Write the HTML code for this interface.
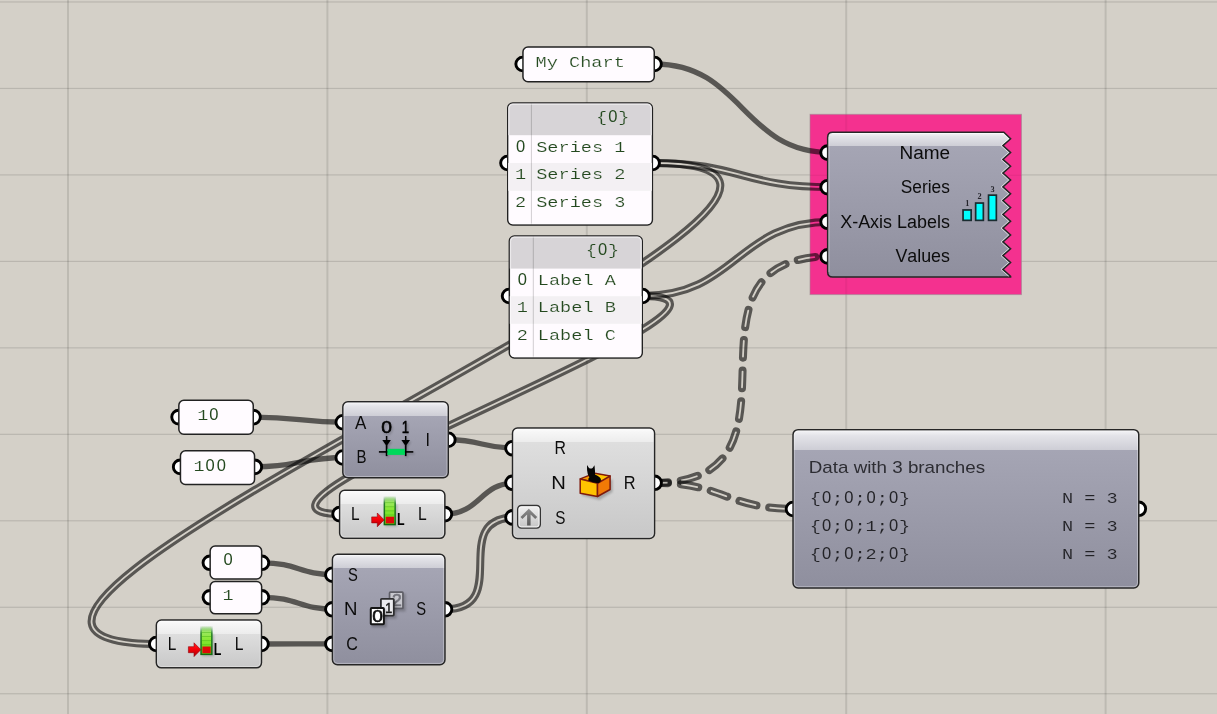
<!DOCTYPE html>
<html><head><meta charset="utf-8"><title>Grasshopper canvas</title>
<style>html,body{margin:0;padding:0;background:#d4d0c8;overflow:hidden}svg{display:block}</style></head>
<body><svg width="1217" height="714" viewBox="0 0 1217 714" style="opacity:0.999">
<defs>
<mask id="m1" maskUnits="userSpaceOnUse" x="0" y="0" width="1217" height="714"><path d="M652.60,163.00 C741.60,163.00 741.60,187.20 830.60,187.20" fill="none" stroke="#fff" stroke-width="8.00"/><path d="M652.60,163.00 C741.60,163.00 741.60,187.20 830.60,187.20" fill="none" stroke="#000" stroke-width="1.80"/></mask>
<mask id="m2" maskUnits="userSpaceOnUse" x="0" y="0" width="1217" height="714"><path d="M652.60,163.00 C1013.35,163.00 -201.45,644.00 159.30,644.00" fill="none" stroke="#fff" stroke-width="8.00"/><path d="M652.60,163.00 C1013.35,163.00 -201.45,644.00 159.30,644.00" fill="none" stroke="#000" stroke-width="1.80"/></mask>
<mask id="m3" maskUnits="userSpaceOnUse" x="0" y="0" width="1217" height="714"><path d="M642.50,296.00 C736.55,296.00 736.55,221.80 830.60,221.80" fill="none" stroke="#fff" stroke-width="8.00"/><path d="M642.50,296.00 C736.55,296.00 736.55,221.80 830.60,221.80" fill="none" stroke="#000" stroke-width="1.80"/></mask>
<mask id="m4" maskUnits="userSpaceOnUse" x="0" y="0" width="1217" height="714"><path d="M642.50,296.00 C806.08,296.00 179.03,514.10 342.60,514.10" fill="none" stroke="#fff" stroke-width="8.00"/><path d="M642.50,296.00 C806.08,296.00 179.03,514.10 342.60,514.10" fill="none" stroke="#000" stroke-width="1.80"/></mask>
<mask id="m5" maskUnits="userSpaceOnUse" x="0" y="0" width="1217" height="714"><path d="M445.00,609.30 C513.92,609.30 446.58,517.40 515.50,517.40" fill="none" stroke="#fff" stroke-width="8.00"/><path d="M445.00,609.30 C513.92,609.30 446.58,517.40 515.50,517.40" fill="none" stroke="#000" stroke-width="1.80"/></mask>
<mask id="m6" maskUnits="userSpaceOnUse" x="0" y="0" width="1217" height="714"><path d="M654.60,482.80 C824.40,482.80 660.80,256.40 830.60,256.40" fill="none" stroke="#fff" stroke-width="8.00" stroke-dasharray="17.7 12.9" stroke-dashoffset="4.4" stroke-linecap="round"/><path d="M654.60,482.80 C824.40,482.80 660.80,256.40 830.60,256.40" fill="none" stroke="#000" stroke-width="1.80" stroke-dasharray="15.6 15.0" stroke-dashoffset="3.35" stroke-linecap="round"/></mask>
<mask id="m7" maskUnits="userSpaceOnUse" x="0" y="0" width="1217" height="714"><path d="M654.60,482.80 C725.30,482.80 725.30,509.00 796.00,509.00" fill="none" stroke="#fff" stroke-width="8.00" stroke-dasharray="17.7 12.9" stroke-dashoffset="4.4" stroke-linecap="round"/><path d="M654.60,482.80 C725.30,482.80 725.30,509.00 796.00,509.00" fill="none" stroke="#000" stroke-width="1.80" stroke-dasharray="15.6 15.0" stroke-dashoffset="3.35" stroke-linecap="round"/></mask>
<clipPath id="c507"><rect x="508.20" y="103.50" width="143.70" height="121.10" rx="4.5" ry="4.5"/></clipPath>
<clipPath id="c508"><rect x="509.80" y="236.50" width="132.00" height="121.10" rx="4.5" ry="4.5"/></clipPath>
<linearGradient id="g826_131" x1="0" y1="0" x2="0" y2="1"><stop offset="0" stop-color="#f7f7f9"/><stop offset="0.0292" stop-color="#e3e3e8"/><stop offset="0.0973" stop-color="#cdcdd5"/><stop offset="0.0973" stop-color="#a5a5b4"/><stop offset="1" stop-color="#8f8f9e"/></linearGradient>
<linearGradient id="g342_401" x1="0" y1="0" x2="0" y2="1"><stop offset="0" stop-color="#f7f7f9"/><stop offset="0.0581" stop-color="#e3e3e8"/><stop offset="0.1935" stop-color="#cdcdd5"/><stop offset="0.1935" stop-color="#a5a5b4"/><stop offset="1" stop-color="#8f8f9e"/></linearGradient>
<filter id="sh" x="-30%" y="-30%" width="160%" height="160%"><feGaussianBlur stdDeviation="1.1"/></filter>
<linearGradient id="g338_489" x1="0" y1="0" x2="0" y2="1"><stop offset="0" stop-color="#fdfdfd"/><stop offset="0.0883" stop-color="#f6f6f6"/><stop offset="0.2944" stop-color="#ececec"/><stop offset="0.2944" stop-color="#dedede"/><stop offset="1" stop-color="#c8c8c8"/></linearGradient>
<linearGradient id="lg338" x1="0" y1="0" x2="0" y2="1"><stop offset="0" stop-color="#9af060" stop-opacity="0"/><stop offset="0.22" stop-color="#a8f268" stop-opacity="0.9"/><stop offset="0.45" stop-color="#8ce838"/><stop offset="1" stop-color="#5fdc10"/></linearGradient>
<linearGradient id="lg338b" x1="0" y1="0" x2="0" y2="1"><stop offset="0" stop-color="#147814" stop-opacity="0"/><stop offset="0.25" stop-color="#147814" stop-opacity="0.9"/><stop offset="1" stop-color="#126a12"/></linearGradient>
<linearGradient id="lg338r" x1="0" y1="0" x2="0" y2="1"><stop offset="0" stop-color="#ff2020"/><stop offset="0.45" stop-color="#f80008"/><stop offset="1" stop-color="#a80008"/></linearGradient>
<linearGradient id="g155_619" x1="0" y1="0" x2="0" y2="1"><stop offset="0" stop-color="#fdfdfd"/><stop offset="0.0888" stop-color="#f6f6f6"/><stop offset="0.2961" stop-color="#ececec"/><stop offset="0.2961" stop-color="#dedede"/><stop offset="1" stop-color="#c8c8c8"/></linearGradient>
<linearGradient id="lg155" x1="0" y1="0" x2="0" y2="1"><stop offset="0" stop-color="#9af060" stop-opacity="0"/><stop offset="0.22" stop-color="#a8f268" stop-opacity="0.9"/><stop offset="0.45" stop-color="#8ce838"/><stop offset="1" stop-color="#5fdc10"/></linearGradient>
<linearGradient id="lg155b" x1="0" y1="0" x2="0" y2="1"><stop offset="0" stop-color="#147814" stop-opacity="0"/><stop offset="0.25" stop-color="#147814" stop-opacity="0.9"/><stop offset="1" stop-color="#126a12"/></linearGradient>
<linearGradient id="lg155r" x1="0" y1="0" x2="0" y2="1"><stop offset="0" stop-color="#ff2020"/><stop offset="0.45" stop-color="#f80008"/><stop offset="1" stop-color="#a80008"/></linearGradient>
<linearGradient id="g331_553" x1="0" y1="0" x2="0" y2="1"><stop offset="0" stop-color="#f7f7f9"/><stop offset="0.0383" stop-color="#e3e3e8"/><stop offset="0.1278" stop-color="#cdcdd5"/><stop offset="0.1278" stop-color="#a5a5b4"/><stop offset="1" stop-color="#8f8f9e"/></linearGradient>
<linearGradient id="g511_427" x1="0" y1="0" x2="0" y2="1"><stop offset="0" stop-color="#fdfdfd"/><stop offset="0.0391" stop-color="#f6f6f6"/><stop offset="0.1304" stop-color="#ececec"/><stop offset="0.1304" stop-color="#dedede"/><stop offset="1" stop-color="#c8c8c8"/></linearGradient>
<linearGradient id="bdg" x1="0" y1="0" x2="0" y2="1"><stop offset="0" stop-color="#f2f2f2"/><stop offset="1" stop-color="#c4c4c4"/></linearGradient>
<linearGradient id="bda" x1="0" y1="0" x2="0" y2="1"><stop offset="0" stop-color="#8c8c8c"/><stop offset="1" stop-color="#5c5c5c"/></linearGradient>
<linearGradient id="g792_428" x1="0" y1="0" x2="0" y2="1"><stop offset="0" stop-color="#f7f7f9"/><stop offset="0.0394" stop-color="#e3e3e8"/><stop offset="0.1314" stop-color="#cdcdd5"/><stop offset="0.1314" stop-color="#a5a5b4"/><stop offset="1" stop-color="#8f8f9e"/></linearGradient>
</defs>
<rect width="1217" height="714" fill="#d4d0c8"/>
<rect x="67.00" y="0" width="2" height="714" fill="#000" fill-opacity="0.105"/>
<rect x="326.40" y="0" width="2" height="714" fill="#000" fill-opacity="0.105"/>
<rect x="585.80" y="0" width="2" height="714" fill="#000" fill-opacity="0.105"/>
<rect x="845.20" y="0" width="2" height="714" fill="#000" fill-opacity="0.105"/>
<rect x="1104.60" y="0" width="2" height="714" fill="#000" fill-opacity="0.105"/>
<rect x="0" y="1.38" width="1217" height="1.2" fill="#000" fill-opacity="0.125"/>
<rect x="0" y="87.85" width="1217" height="1.2" fill="#000" fill-opacity="0.125"/>
<rect x="0" y="174.32" width="1217" height="1.2" fill="#000" fill-opacity="0.125"/>
<rect x="0" y="260.79" width="1217" height="1.2" fill="#000" fill-opacity="0.125"/>
<rect x="0" y="347.26" width="1217" height="1.2" fill="#000" fill-opacity="0.125"/>
<rect x="0" y="433.73" width="1217" height="1.2" fill="#000" fill-opacity="0.125"/>
<rect x="0" y="520.20" width="1217" height="1.2" fill="#000" fill-opacity="0.125"/>
<rect x="0" y="606.67" width="1217" height="1.2" fill="#000" fill-opacity="0.125"/>
<rect x="0" y="693.14" width="1217" height="1.2" fill="#000" fill-opacity="0.125"/>
<rect x="810" y="114.3" width="211.5" height="180.3" fill="#f52b8c" fill-opacity="0.97" stroke="#a08a94" stroke-opacity="0.6" stroke-width="1"/>
<rect x="810" y="174.8" width="211.5" height="1" fill="#000" fill-opacity="0.05"/>
<rect x="845.2" y="114.3" width="2" height="180.3" fill="#000" fill-opacity="0.04"/>
<path d="M654.50,64.00 C742.55,64.00 742.55,152.60 830.60,152.60" fill="none" stroke="#000" stroke-opacity="0.585" stroke-width="5.30"/>
<rect x="0" y="0" width="1217" height="714" fill="#000" fill-opacity="0.585" mask="url(#m1)"/>
<rect x="0" y="0" width="1217" height="714" fill="#000" fill-opacity="0.585" mask="url(#m2)"/>
<rect x="0" y="0" width="1217" height="714" fill="#000" fill-opacity="0.585" mask="url(#m3)"/>
<rect x="0" y="0" width="1217" height="714" fill="#000" fill-opacity="0.585" mask="url(#m4)"/>
<path d="M253.50,417.10 C299.65,417.10 299.65,422.25 345.80,422.25" fill="none" stroke="#000" stroke-opacity="0.585" stroke-width="5.30"/>
<path d="M254.80,466.90 C300.30,466.90 300.30,457.50 345.80,457.50" fill="none" stroke="#000" stroke-opacity="0.585" stroke-width="5.30"/>
<path d="M448.30,439.75 C481.90,439.75 481.90,448.20 515.50,448.20" fill="none" stroke="#000" stroke-opacity="0.585" stroke-width="5.30"/>
<path d="M444.90,514.10 C480.20,514.10 480.20,482.80 515.50,482.80" fill="none" stroke="#000" stroke-opacity="0.585" stroke-width="5.30"/>
<rect x="0" y="0" width="1217" height="714" fill="#000" fill-opacity="0.585" mask="url(#m5)"/>
<path d="M261.90,562.80 C298.65,562.80 298.65,574.70 335.40,574.70" fill="none" stroke="#000" stroke-opacity="0.585" stroke-width="5.30"/>
<path d="M261.90,597.30 C298.65,597.30 298.65,609.30 335.40,609.30" fill="none" stroke="#000" stroke-opacity="0.585" stroke-width="5.30"/>
<path d="M261.50,644.00 C298.45,644.00 298.45,643.90 335.40,643.90" fill="none" stroke="#000" stroke-opacity="0.585" stroke-width="5.30"/>
<rect x="0" y="0" width="1217" height="714" fill="#000" fill-opacity="0.585" mask="url(#m6)"/>
<rect x="0" y="0" width="1217" height="714" fill="#000" fill-opacity="0.585" mask="url(#m7)"/>
<circle cx="522.70" cy="64.00" r="6.85" fill="#fff" stroke="#000" stroke-width="2.9"/>
<circle cx="654.50" cy="64.00" r="6.85" fill="#fff" stroke="#000" stroke-width="2.9"/>
<rect x="522.95" y="47.05" width="131.30" height="34.60" rx="5" ry="5" fill="#fffbff" stroke="#222" stroke-width="1.5"/>
<text transform="translate(535.60,67.30) scale(1.2157,1)" font-family="'Liberation Mono',monospace" font-size="15.30" fill="#24491f" stroke="#fffbff" stroke-width="0.18" xml:space="preserve"><tspan x="0.00">My Chart</tspan></text>
<circle cx="507.50" cy="163.00" r="6.85" fill="#fff" stroke="#000" stroke-width="2.9"/>
<circle cx="652.60" cy="163.00" r="6.85" fill="#fff" stroke="#000" stroke-width="2.9"/>
<rect x="507.75" y="103.05" width="144.60" height="122.00" rx="5" ry="5" fill="#fffbff" stroke="#222" stroke-width="1.5"/>
<g clip-path="url(#c507)">
<rect x="507.00" y="102.30" width="146.10" height="32.90" fill="#d7d4d7"/>
<rect x="507.00" y="163.00" width="146.10" height="27.80" fill="#f3f0f3"/>
<rect x="530.90" y="102.30" width="1" height="123.50" fill="#000" fill-opacity="0.18"/>
</g>
<rect x="509.00" y="104.30" width="142.10" height="119.50" rx="3.8" ry="3.8" fill="none" stroke="#fff" stroke-opacity="0.55" stroke-width="1"/>
<text transform="translate(596.02,121.50) scale(1.2157,1)" font-family="'Liberation Mono',monospace" font-size="15.30" fill="#24491f" stroke="#d7d4d7" stroke-width="0.18" xml:space="preserve"><tspan x="0.00">{</tspan><tspan x="9.99" font-family="'Liberation Sans',sans-serif" font-size="15.60" textLength="7.56" lengthAdjust="spacingAndGlyphs" stroke="none">0</tspan><tspan x="18.36">}</tspan></text>
<text transform="translate(515.10,151.90) scale(1.2157,1)" font-family="'Liberation Mono',monospace" font-size="15.30" fill="#24491f" stroke="#fffbff" stroke-width="0.18" xml:space="preserve"><tspan x="0.81" font-family="'Liberation Sans',sans-serif" font-size="15.60" textLength="7.56" lengthAdjust="spacingAndGlyphs" stroke="none">0</tspan></text>
<text transform="translate(536.20,151.90) scale(1.2157,1)" font-family="'Liberation Mono',monospace" font-size="15.30" fill="#24491f" stroke="#fffbff" stroke-width="0.18" xml:space="preserve"><tspan x="0.00">Series 1</tspan></text>
<text transform="translate(515.10,179.45) scale(1.2157,1)" font-family="'Liberation Mono',monospace" font-size="15.30" fill="#24491f" stroke="#f3f0f3" stroke-width="0.18" xml:space="preserve"><tspan x="0.00">1</tspan></text>
<text transform="translate(536.20,179.45) scale(1.2157,1)" font-family="'Liberation Mono',monospace" font-size="15.30" fill="#24491f" stroke="#f3f0f3" stroke-width="0.18" xml:space="preserve"><tspan x="0.00">Series 2</tspan></text>
<text transform="translate(515.10,207.30) scale(1.2157,1)" font-family="'Liberation Mono',monospace" font-size="15.30" fill="#24491f" stroke="#fffbff" stroke-width="0.18" xml:space="preserve"><tspan x="0.00">2</tspan></text>
<text transform="translate(536.20,207.30) scale(1.2157,1)" font-family="'Liberation Mono',monospace" font-size="15.30" fill="#24491f" stroke="#fffbff" stroke-width="0.18" xml:space="preserve"><tspan x="0.00">Series 3</tspan></text>
<circle cx="509.10" cy="296.00" r="6.85" fill="#fff" stroke="#000" stroke-width="2.9"/>
<circle cx="642.50" cy="296.00" r="6.85" fill="#fff" stroke="#000" stroke-width="2.9"/>
<rect x="509.35" y="236.05" width="132.90" height="122.00" rx="5" ry="5" fill="#fffbff" stroke="#222" stroke-width="1.5"/>
<g clip-path="url(#c508)">
<rect x="508.60" y="235.30" width="134.40" height="33.30" fill="#d7d4d7"/>
<rect x="508.60" y="296.20" width="134.40" height="27.60" fill="#f3f0f3"/>
<rect x="532.80" y="235.30" width="1" height="123.50" fill="#000" fill-opacity="0.18"/>
</g>
<rect x="510.60" y="237.30" width="130.40" height="119.50" rx="3.8" ry="3.8" fill="none" stroke="#fff" stroke-opacity="0.55" stroke-width="1"/>
<text transform="translate(585.82,254.70) scale(1.2157,1)" font-family="'Liberation Mono',monospace" font-size="15.30" fill="#24491f" stroke="#d7d4d7" stroke-width="0.18" xml:space="preserve"><tspan x="0.00">{</tspan><tspan x="9.99" font-family="'Liberation Sans',sans-serif" font-size="15.60" textLength="7.56" lengthAdjust="spacingAndGlyphs" stroke="none">0</tspan><tspan x="18.36">}</tspan></text>
<text transform="translate(516.70,284.90) scale(1.2157,1)" font-family="'Liberation Mono',monospace" font-size="15.30" fill="#24491f" stroke="#fffbff" stroke-width="0.18" xml:space="preserve"><tspan x="0.81" font-family="'Liberation Sans',sans-serif" font-size="15.60" textLength="7.56" lengthAdjust="spacingAndGlyphs" stroke="none">0</tspan></text>
<text transform="translate(537.80,284.90) scale(1.2157,1)" font-family="'Liberation Mono',monospace" font-size="15.30" fill="#24491f" stroke="#fffbff" stroke-width="0.18" xml:space="preserve"><tspan x="0.00">Label A</tspan></text>
<text transform="translate(516.70,312.45) scale(1.2157,1)" font-family="'Liberation Mono',monospace" font-size="15.30" fill="#24491f" stroke="#f3f0f3" stroke-width="0.18" xml:space="preserve"><tspan x="0.00">1</tspan></text>
<text transform="translate(537.80,312.45) scale(1.2157,1)" font-family="'Liberation Mono',monospace" font-size="15.30" fill="#24491f" stroke="#f3f0f3" stroke-width="0.18" xml:space="preserve"><tspan x="0.00">Label B</tspan></text>
<text transform="translate(516.70,340.30) scale(1.2157,1)" font-family="'Liberation Mono',monospace" font-size="15.30" fill="#24491f" stroke="#fffbff" stroke-width="0.18" xml:space="preserve"><tspan x="0.00">2</tspan></text>
<text transform="translate(537.80,340.30) scale(1.2157,1)" font-family="'Liberation Mono',monospace" font-size="15.30" fill="#24491f" stroke="#fffbff" stroke-width="0.18" xml:space="preserve"><tspan x="0.00">Label C</tspan></text>
<circle cx="178.60" cy="417.10" r="6.85" fill="#fff" stroke="#000" stroke-width="2.9"/>
<circle cx="253.50" cy="417.10" r="6.85" fill="#fff" stroke="#000" stroke-width="2.9"/>
<rect x="178.85" y="400.25" width="74.40" height="33.90" rx="5" ry="5" fill="#fffbff" stroke="#222" stroke-width="1.5"/>
<text transform="translate(197.20,420.40) scale(1.2157,1)" font-family="'Liberation Mono',monospace" font-size="15.30" fill="#24491f" stroke="#fffbff" stroke-width="0.18" xml:space="preserve"><tspan x="0.00">1</tspan><tspan x="9.99" font-family="'Liberation Sans',sans-serif" font-size="15.60" textLength="7.56" lengthAdjust="spacingAndGlyphs" stroke="none">0</tspan></text>
<circle cx="180.20" cy="466.90" r="6.85" fill="#fff" stroke="#000" stroke-width="2.9"/>
<circle cx="254.80" cy="466.90" r="6.85" fill="#fff" stroke="#000" stroke-width="2.9"/>
<rect x="180.45" y="450.75" width="74.10" height="33.80" rx="5" ry="5" fill="#fffbff" stroke="#222" stroke-width="1.5"/>
<text transform="translate(193.40,470.50) scale(1.2157,1)" font-family="'Liberation Mono',monospace" font-size="15.30" fill="#24491f" stroke="#fffbff" stroke-width="0.18" xml:space="preserve"><tspan x="0.00">1</tspan><tspan x="9.99" font-family="'Liberation Sans',sans-serif" font-size="15.60" textLength="7.56" lengthAdjust="spacingAndGlyphs" stroke="none">0</tspan><tspan x="19.17" font-family="'Liberation Sans',sans-serif" font-size="15.60" textLength="7.56" lengthAdjust="spacingAndGlyphs" stroke="none">0</tspan></text>
<circle cx="209.90" cy="562.80" r="6.85" fill="#fff" stroke="#000" stroke-width="2.9"/>
<circle cx="261.90" cy="562.80" r="6.85" fill="#fff" stroke="#000" stroke-width="2.9"/>
<rect x="210.15" y="545.95" width="51.50" height="33.00" rx="5" ry="5" fill="#fffbff" stroke="#222" stroke-width="1.5"/>
<text transform="translate(222.60,565.00) scale(1.2157,1)" font-family="'Liberation Mono',monospace" font-size="15.30" fill="#24491f" stroke="#fffbff" stroke-width="0.18" xml:space="preserve"><tspan x="0.81" font-family="'Liberation Sans',sans-serif" font-size="15.60" textLength="7.56" lengthAdjust="spacingAndGlyphs" stroke="none">0</tspan></text>
<circle cx="209.90" cy="597.30" r="6.85" fill="#fff" stroke="#000" stroke-width="2.9"/>
<circle cx="261.90" cy="597.30" r="6.85" fill="#fff" stroke="#000" stroke-width="2.9"/>
<rect x="210.15" y="581.45" width="51.50" height="32.40" rx="5" ry="5" fill="#fffbff" stroke="#222" stroke-width="1.5"/>
<text transform="translate(222.60,600.00) scale(1.2157,1)" font-family="'Liberation Mono',monospace" font-size="15.30" fill="#24491f" stroke="#fffbff" stroke-width="0.18" xml:space="preserve"><tspan x="0.00">1</tspan></text>
<circle cx="827.60" cy="152.60" r="6.85" fill="#fff" stroke="#000" stroke-width="2.9"/>
<circle cx="827.60" cy="187.20" r="6.85" fill="#fff" stroke="#000" stroke-width="2.9"/>
<circle cx="827.60" cy="221.80" r="6.85" fill="#fff" stroke="#000" stroke-width="2.9"/>
<circle cx="827.60" cy="256.40" r="6.85" fill="#fff" stroke="#000" stroke-width="2.9"/>
<path d="M832.65,132.25 L1003.80,132.25 L1010.60,138.75 L1002.90,145.62 L1010.60,152.50 L1002.90,159.38 L1010.60,166.25 L1002.90,173.12 L1010.60,180.00 L1002.90,186.88 L1010.60,193.75 L1002.90,200.62 L1010.60,207.50 L1002.90,214.38 L1010.60,221.25 L1002.90,228.12 L1010.60,235.00 L1002.90,241.88 L1010.60,248.75 L1002.90,255.62 L1010.60,262.50 L1002.90,269.38 L1010.60,276.25 L1010.60,276.90 L832.65,276.90 Q827.65,276.90 827.65,271.90 L827.65,137.25 Q827.65,132.25 832.65,132.25 Z" fill="url(#g826_131)" stroke="#262626" stroke-width="1.5" stroke-linejoin="miter"/>
<path d="M832.65,133.55 L1003.20,133.55 L1008.70,138.75 L1001.00,145.62 L1008.70,152.50 L1001.00,159.38 L1008.70,166.25 L1001.00,173.12 L1008.70,180.00 L1001.00,186.88 L1008.70,193.75 L1001.00,200.62 L1008.70,207.50 L1001.00,214.38 L1008.70,221.25 L1001.00,228.12 L1008.70,235.00 L1001.00,241.88 L1008.70,248.75 L1001.00,255.62 L1008.70,262.50 L1001.00,269.38 L1008.70,276.25 " fill="none" stroke="#fff" stroke-opacity="0.6" stroke-width="1"/>
<path d="M828.95,137.25 V271.90" fill="none" stroke="#fff" stroke-opacity="0.4" stroke-width="1"/>
<text transform="translate(899.44,158.80) scale(1.0800,1)" font-family="'Liberation Sans',sans-serif" font-size="17.60" font-weight="normal" fill="#0c0c0c" style="font-kerning:none">Name</text>
<text transform="translate(900.81,193.20) scale(0.9845,1)" font-family="'Liberation Sans',sans-serif" font-size="17.60" font-weight="normal" fill="#0c0c0c" style="font-kerning:none">Series</text>
<text transform="translate(840.20,227.70) scale(1.0200,1)" font-family="'Liberation Sans',sans-serif" font-size="17.60" font-weight="normal" fill="#0c0c0c" style="font-kerning:none">X-Axis Labels</text>
<text transform="translate(895.42,262.30) scale(1.0132,1)" font-family="'Liberation Sans',sans-serif" font-size="17.60" font-weight="normal" fill="#0c0c0c" style="font-kerning:none">Values</text>
<rect x="963.05" y="209.95" width="8.10" height="10.40" fill="#00ffff" stroke="#1a2c30" stroke-width="1.7"/>
<rect x="975.65" y="203.05" width="7.70" height="17.30" fill="#00ffff" stroke="#1a2c30" stroke-width="1.7"/>
<rect x="988.55" y="195.15" width="7.80" height="25.20" fill="#00ffff" stroke="#1a2c30" stroke-width="1.7"/>
<text x="967.30" y="206.30" font-family="'Liberation Serif',serif" font-weight="bold" font-size="8.3" fill="#25252c" text-anchor="middle">1</text>
<text x="979.70" y="199.30" font-family="'Liberation Serif',serif" font-weight="bold" font-size="8.3" fill="#25252c" text-anchor="middle">2</text>
<text x="992.50" y="191.50" font-family="'Liberation Serif',serif" font-weight="bold" font-size="8.3" fill="#25252c" text-anchor="middle">3</text>
<circle cx="342.80" cy="422.25" r="6.85" fill="#fff" stroke="#000" stroke-width="2.9"/>
<circle cx="342.80" cy="457.50" r="6.85" fill="#fff" stroke="#000" stroke-width="2.9"/>
<circle cx="448.30" cy="439.75" r="6.85" fill="#fff" stroke="#000" stroke-width="2.9"/>
<rect x="342.85" y="401.75" width="105.40" height="76.00" rx="5" ry="5" fill="url(#g342_401)" stroke="#262626" stroke-width="1.5"/>
<rect x="344.10" y="403.00" width="102.90" height="73.50" rx="3.8" ry="3.8" fill="none" stroke="#fff" stroke-opacity="0.35" stroke-width="1"/>
<text transform="translate(354.97,428.50) scale(0.9683,1)" font-family="'Liberation Sans',sans-serif" font-size="17.60" font-weight="normal" fill="#0c0c0c" style="font-kerning:none">A</text>
<text transform="translate(356.47,462.90) scale(0.8540,1)" font-family="'Liberation Sans',sans-serif" font-size="17.60" font-weight="normal" fill="#0c0c0c" style="font-kerning:none">B</text>
<text transform="translate(425.52,445.70) scale(0.9139,1)" font-family="'Liberation Sans',sans-serif" font-size="17.60" font-weight="normal" fill="#0c0c0c" style="font-kerning:none">I</text>
<g fill="#000" opacity="0.22" filter="url(#sh)" transform="translate(1.2,1.6)">
<ellipse cx="386.6" cy="427.2" rx="3.9" ry="5.4" fill="none" stroke="#000" stroke-width="1.8"/>
<rect x="405" y="421.5" width="1.9" height="11.7"/>
<rect x="385.85" y="436" width="1.5" height="6"/>
<path d="M382.30,440.1 L390.90,440.1 L386.60,446.2 Z"/>
<rect x="385.75" y="445.2" width="1.7" height="10.9"/>
<rect x="404.95" y="436" width="1.5" height="6"/>
<path d="M401.40,440.1 L410.00,440.1 L405.70,446.2 Z"/>
<rect x="404.85" y="445.2" width="1.7" height="10.9"/>
<rect x="378.9" y="451.1" width="34.4" height="1.6"/>
</g>
<g fill="#000">
<text transform="translate(381.25,433.20) scale(1.1189,1)" font-family="'Liberation Sans',sans-serif" font-size="17.20" font-weight="normal" fill="#000" style="font-kerning:none" stroke="#000" stroke-width="0.55">0</text>
<text transform="translate(401.79,433.20) scale(0.7686,1)" font-family="'Liberation Sans',sans-serif" font-size="17.20" font-weight="normal" fill="#000" style="font-kerning:none" stroke="#000" stroke-width="0.55">1</text>
<rect x="385.85" y="436" width="1.5" height="6"/>
<path d="M382.30,440.1 L390.90,440.1 L386.60,446.2 Z"/>
<rect x="385.75" y="445.2" width="1.7" height="10.9"/>
<rect x="404.95" y="436" width="1.5" height="6"/>
<path d="M401.40,440.1 L410.00,440.1 L405.70,446.2 Z"/>
<rect x="404.85" y="445.2" width="1.7" height="10.9"/>
<rect x="378.9" y="451.1" width="34.4" height="1.6"/>
</g>
<rect x="387.4" y="448.8" width="17.5" height="6.1" fill="#00d85a"/>
<circle cx="339.60" cy="514.10" r="6.85" fill="#fff" stroke="#000" stroke-width="2.9"/>
<circle cx="444.90" cy="514.10" r="6.85" fill="#fff" stroke="#000" stroke-width="2.9"/>
<rect x="339.65" y="490.25" width="105.20" height="48.10" rx="5" ry="5" fill="url(#g338_489)" stroke="#262626" stroke-width="1.5"/>
<rect x="340.90" y="491.50" width="102.70" height="45.60" rx="3.8" ry="3.8" fill="none" stroke="#fff" stroke-opacity="0.35" stroke-width="1"/>
<text transform="translate(351.03,520.10) scale(0.8763,1)" font-family="'Liberation Sans',sans-serif" font-size="17.60" font-weight="normal" fill="#0c0c0c" style="font-kerning:none">L</text>
<text transform="translate(418.12,520.10) scale(0.8892,1)" font-family="'Liberation Sans',sans-serif" font-size="17.60" font-weight="normal" fill="#0c0c0c" style="font-kerning:none">L</text>
<rect x="385.10" y="504.50" width="12.3" height="22" fill="#000" opacity="0.18" filter="url(#sh)"/>
<rect x="383.60" y="496.00" width="12.3" height="29.3" fill="url(#lg338b)"/>
<rect x="385.10" y="496.00" width="9.3" height="27.8" fill="url(#lg338)"/>
<rect x="385.10" y="502.30" width="9.3" height="0.8" fill="#3fae10" fill-opacity="0.55"/>
<rect x="385.10" y="506.40" width="9.3" height="0.8" fill="#3fae10" fill-opacity="0.55"/>
<rect x="385.10" y="510.50" width="9.3" height="0.8" fill="#3fae10" fill-opacity="0.55"/>
<rect x="385.10" y="514.60" width="9.3" height="0.8" fill="#3fae10" fill-opacity="0.55"/>
<rect x="385.70" y="516.70" width="8.3" height="6.7" fill="#de0808"/>
<path d="M371.70,516.90 h5.6 v-3.9 l6.9,6.9 l-6.9,6.9 v-3.9 h-5.6 z" fill="url(#lg338r)" stroke="#90000a" stroke-width="0.6" stroke-linejoin="round"/>
<text transform="translate(397.07,524.90) scale(0.7994,1)" font-family="'Liberation Sans',sans-serif" font-size="15.60" font-weight="bold" fill="#000" style="font-kerning:none">L</text>
<circle cx="156.30" cy="644.00" r="6.85" fill="#fff" stroke="#000" stroke-width="2.9"/>
<circle cx="261.50" cy="644.00" r="6.85" fill="#fff" stroke="#000" stroke-width="2.9"/>
<rect x="156.35" y="620.05" width="105.10" height="47.80" rx="5" ry="5" fill="url(#g155_619)" stroke="#262626" stroke-width="1.5"/>
<rect x="157.60" y="621.30" width="102.60" height="45.30" rx="3.8" ry="3.8" fill="none" stroke="#fff" stroke-opacity="0.35" stroke-width="1"/>
<text transform="translate(167.73,650.00) scale(0.8763,1)" font-family="'Liberation Sans',sans-serif" font-size="17.60" font-weight="normal" fill="#0c0c0c" style="font-kerning:none">L</text>
<text transform="translate(234.72,650.00) scale(0.8892,1)" font-family="'Liberation Sans',sans-serif" font-size="17.60" font-weight="normal" fill="#0c0c0c" style="font-kerning:none">L</text>
<rect x="201.80" y="634.30" width="12.3" height="22" fill="#000" opacity="0.18" filter="url(#sh)"/>
<rect x="200.30" y="625.80" width="12.3" height="29.3" fill="url(#lg155b)"/>
<rect x="201.80" y="625.80" width="9.3" height="27.8" fill="url(#lg155)"/>
<rect x="201.80" y="632.10" width="9.3" height="0.8" fill="#3fae10" fill-opacity="0.55"/>
<rect x="201.80" y="636.20" width="9.3" height="0.8" fill="#3fae10" fill-opacity="0.55"/>
<rect x="201.80" y="640.30" width="9.3" height="0.8" fill="#3fae10" fill-opacity="0.55"/>
<rect x="201.80" y="644.40" width="9.3" height="0.8" fill="#3fae10" fill-opacity="0.55"/>
<rect x="202.40" y="646.50" width="8.3" height="6.7" fill="#de0808"/>
<path d="M188.40,646.70 h5.6 v-3.9 l6.9,6.9 l-6.9,6.9 v-3.9 h-5.6 z" fill="url(#lg155r)" stroke="#90000a" stroke-width="0.6" stroke-linejoin="round"/>
<text transform="translate(213.77,654.70) scale(0.7994,1)" font-family="'Liberation Sans',sans-serif" font-size="15.60" font-weight="bold" fill="#000" style="font-kerning:none">L</text>
<circle cx="332.40" cy="574.70" r="6.85" fill="#fff" stroke="#000" stroke-width="2.9"/>
<circle cx="332.40" cy="609.30" r="6.85" fill="#fff" stroke="#000" stroke-width="2.9"/>
<circle cx="332.40" cy="643.90" r="6.85" fill="#fff" stroke="#000" stroke-width="2.9"/>
<circle cx="445.00" cy="609.30" r="6.85" fill="#fff" stroke="#000" stroke-width="2.9"/>
<rect x="332.45" y="554.25" width="112.50" height="110.40" rx="5" ry="5" fill="url(#g331_553)" stroke="#262626" stroke-width="1.5"/>
<rect x="333.70" y="555.50" width="110.00" height="107.90" rx="3.8" ry="3.8" fill="none" stroke="#fff" stroke-opacity="0.35" stroke-width="1"/>
<text transform="translate(348.03,580.50) scale(0.8389,1)" font-family="'Liberation Sans',sans-serif" font-size="17.60" font-weight="normal" fill="#0c0c0c" style="font-kerning:none">S</text>
<text transform="translate(343.97,615.00) scale(1.0579,1)" font-family="'Liberation Sans',sans-serif" font-size="17.60" font-weight="normal" fill="#0c0c0c" style="font-kerning:none">N</text>
<text transform="translate(346.18,649.60) scale(0.9151,1)" font-family="'Liberation Sans',sans-serif" font-size="17.60" font-weight="normal" fill="#0c0c0c" style="font-kerning:none">C</text>
<text transform="translate(416.13,615.00) scale(0.8389,1)" font-family="'Liberation Sans',sans-serif" font-size="17.60" font-weight="normal" fill="#0c0c0c" style="font-kerning:none">S</text>
<rect x="390.50" y="593.50" width="15.10" height="18.00" fill="#000" opacity="0.2" filter="url(#sh)"/>
<rect x="389.55" y="592.15" width="13.40" height="16.30" rx="0.8" fill="#c8c8ce" stroke="#5e5e66" stroke-width="1.70"/>
<text transform="translate(392.02,606.40) scale(1.1257,1)" font-family="'Liberation Sans',sans-serif" font-size="15.60" font-weight="normal" fill="#74747c" style="font-kerning:none" stroke="#74747c" stroke-width="0.55">2</text>
<rect x="381.80" y="600.10" width="14.70" height="18.60" fill="#000" opacity="0.2" filter="url(#sh)"/>
<rect x="380.90" y="598.80" width="12.90" height="16.80" rx="0.8" fill="#ececef" stroke="#2e2e30" stroke-width="1.80"/>
<text transform="translate(385.25,612.70) scale(0.8463,1)" font-family="'Liberation Sans',sans-serif" font-size="14.80" font-weight="normal" fill="#1c1c1c" style="font-kerning:none" stroke="#1c1c1c" stroke-width="0.55">1</text>
<rect x="371.60" y="609.30" width="15.10" height="18.20" fill="#000" opacity="0.2" filter="url(#sh)"/>
<rect x="370.80" y="608.10" width="13.10" height="16.20" rx="0.8" fill="#ffffff" stroke="#161616" stroke-width="2.00"/>
<text transform="translate(372.15,621.80) scale(1.1735,1)" font-family="'Liberation Sans',sans-serif" font-size="16.40" font-weight="normal" fill="#0c0c0c" style="font-kerning:none" stroke="#0c0c0c" stroke-width="0.55">0</text>
<circle cx="512.50" cy="448.20" r="6.85" fill="#fff" stroke="#000" stroke-width="2.9"/>
<circle cx="512.50" cy="482.80" r="6.85" fill="#fff" stroke="#000" stroke-width="2.9"/>
<circle cx="512.50" cy="517.40" r="6.85" fill="#fff" stroke="#000" stroke-width="2.9"/>
<circle cx="654.60" cy="482.80" r="6.85" fill="#fff" stroke="#000" stroke-width="2.9"/>
<rect x="512.55" y="428.05" width="142.00" height="110.50" rx="5" ry="5" fill="url(#g511_427)" stroke="#262626" stroke-width="1.5"/>
<rect x="513.80" y="429.30" width="139.50" height="108.00" rx="3.8" ry="3.8" fill="none" stroke="#fff" stroke-opacity="0.35" stroke-width="1"/>
<text transform="translate(554.40,454.00) scale(0.8995,1)" font-family="'Liberation Sans',sans-serif" font-size="17.60" font-weight="normal" fill="#0c0c0c" style="font-kerning:none">R</text>
<text transform="translate(551.24,488.90) scale(1.1494,1)" font-family="'Liberation Sans',sans-serif" font-size="17.60" font-weight="normal" fill="#0c0c0c" style="font-kerning:none">N</text>
<text transform="translate(555.31,523.50) scale(0.8685,1)" font-family="'Liberation Sans',sans-serif" font-size="17.60" font-weight="normal" fill="#0c0c0c" style="font-kerning:none">S</text>
<text transform="translate(623.86,488.90) scale(0.9282,1)" font-family="'Liberation Sans',sans-serif" font-size="17.60" font-weight="normal" fill="#0c0c0c" style="font-kerning:none">R</text>
<rect x="517.7" y="505.5" width="22.6" height="22.6" rx="3.6" ry="3.6" fill="url(#bdg)" stroke="#343434" stroke-width="1.4"/>
<rect x="519" y="506.8" width="20" height="20" rx="2.6" ry="2.6" fill="none" stroke="#fff" stroke-opacity="0.75" stroke-width="1"/>
<path d="M528.8,508.7 L537.2,516.9 L535.2,519 L530.6,514.5 L530.6,525.4 L527.1,525.4 L527.1,514.5 L522.4,519 L520.5,516.9 Z" fill="url(#bda)"/>
<path d="M582,482 L598.5,486 L612.5,479 L612.5,492 L599.5,500 L582,495.5 Z" fill="#000" opacity="0.22" filter="url(#sh)"/>
<path d="M580.2,478.9 L594.8,473.2 L610.1,476 L597.5,483.3 Z" fill="#f59a00" stroke="#7e1a0c" stroke-width="1.4" stroke-linejoin="round"/>
<path d="M594.8,474.3 L609,476.8 L603,480.3 L596,478.5 Z" fill="#ffc800"/>
<path d="M580.2,478.9 L597.5,483.3 L597.5,496.5 L580.2,493.2 Z" fill="#ffc200" stroke="#7e1a0c" stroke-width="1.5" stroke-linejoin="round"/>
<path d="M597.5,483.3 L610.1,476 L610.1,489.5 L597.5,496.5 Z" fill="#f27a06" stroke="#7e1a0c" stroke-width="1.5" stroke-linejoin="round"/>
<path d="M587,465 L589,468 Q590.9,469 592.6,468 L594.5,465.2 L595,471 L595,474.6 Q600.6,476.8 601,480 Q600.8,482.4 598.3,483.2 L592.5,482.3 L588.4,480.4 Q587.8,478.6 589.4,477.2 L587.8,474.2 Q586.7,470 587,465 Z" fill="#050505"/>
<circle cx="793.00" cy="509.00" r="6.85" fill="#fff" stroke="#000" stroke-width="2.9"/>
<circle cx="1138.80" cy="508.80" r="6.85" fill="#fff" stroke="#000" stroke-width="2.9"/>
<rect x="793.05" y="429.65" width="345.70" height="158.30" rx="5" ry="5" fill="url(#g792_428)" stroke="#262626" stroke-width="1.5"/>
<rect x="794.30" y="430.90" width="343.20" height="155.80" rx="3.8" ry="3.8" fill="none" stroke="#fff" stroke-opacity="0.35" stroke-width="1"/>
<text transform="translate(808.76,472.90) scale(1.1047,1)" font-family="'Liberation Sans',sans-serif" font-size="17.00" font-weight="normal" fill="#2d2d33" style="font-kerning:none">Data with 3 branches</text>
<text transform="translate(809.80,503.20) scale(1.2157,1)" font-family="'Liberation Mono',monospace" font-size="15.30" fill="#222226" stroke="#9d9dac" stroke-width="0.10" xml:space="preserve"><tspan x="0.00">{</tspan><tspan x="9.99" font-family="'Liberation Sans',sans-serif" font-size="15.60" textLength="7.56" lengthAdjust="spacingAndGlyphs" stroke="none">0</tspan><tspan x="18.36">;</tspan><tspan x="28.35" font-family="'Liberation Sans',sans-serif" font-size="15.60" textLength="7.56" lengthAdjust="spacingAndGlyphs" stroke="none">0</tspan><tspan x="36.72">;</tspan><tspan x="46.71" font-family="'Liberation Sans',sans-serif" font-size="15.60" textLength="7.56" lengthAdjust="spacingAndGlyphs" stroke="none">0</tspan><tspan x="55.08">;</tspan><tspan x="65.07" font-family="'Liberation Sans',sans-serif" font-size="15.60" textLength="7.56" lengthAdjust="spacingAndGlyphs" stroke="none">0</tspan><tspan x="73.44">}</tspan></text>
<text transform="translate(1062.00,503.20) scale(1.2157,1)" font-family="'Liberation Mono',monospace" font-size="15.30" fill="#222226" stroke="#9d9dac" stroke-width="0.10" xml:space="preserve"><tspan x="0.00">N = 3</tspan></text>
<text transform="translate(809.80,530.90) scale(1.2157,1)" font-family="'Liberation Mono',monospace" font-size="15.30" fill="#222226" stroke="#9999a8" stroke-width="0.10" xml:space="preserve"><tspan x="0.00">{</tspan><tspan x="9.99" font-family="'Liberation Sans',sans-serif" font-size="15.60" textLength="7.56" lengthAdjust="spacingAndGlyphs" stroke="none">0</tspan><tspan x="18.36">;</tspan><tspan x="28.35" font-family="'Liberation Sans',sans-serif" font-size="15.60" textLength="7.56" lengthAdjust="spacingAndGlyphs" stroke="none">0</tspan><tspan x="36.72">;1;</tspan><tspan x="65.07" font-family="'Liberation Sans',sans-serif" font-size="15.60" textLength="7.56" lengthAdjust="spacingAndGlyphs" stroke="none">0</tspan><tspan x="73.44">}</tspan></text>
<text transform="translate(1062.00,530.90) scale(1.2157,1)" font-family="'Liberation Mono',monospace" font-size="15.30" fill="#222226" stroke="#9999a8" stroke-width="0.10" xml:space="preserve"><tspan x="0.00">N = 3</tspan></text>
<text transform="translate(809.80,558.60) scale(1.2157,1)" font-family="'Liberation Mono',monospace" font-size="15.30" fill="#222226" stroke="#9595a4" stroke-width="0.10" xml:space="preserve"><tspan x="0.00">{</tspan><tspan x="9.99" font-family="'Liberation Sans',sans-serif" font-size="15.60" textLength="7.56" lengthAdjust="spacingAndGlyphs" stroke="none">0</tspan><tspan x="18.36">;</tspan><tspan x="28.35" font-family="'Liberation Sans',sans-serif" font-size="15.60" textLength="7.56" lengthAdjust="spacingAndGlyphs" stroke="none">0</tspan><tspan x="36.72">;2;</tspan><tspan x="65.07" font-family="'Liberation Sans',sans-serif" font-size="15.60" textLength="7.56" lengthAdjust="spacingAndGlyphs" stroke="none">0</tspan><tspan x="73.44">}</tspan></text>
<text transform="translate(1062.00,558.60) scale(1.2157,1)" font-family="'Liberation Mono',monospace" font-size="15.30" fill="#222226" stroke="#9595a4" stroke-width="0.10" xml:space="preserve"><tspan x="0.00">N = 3</tspan></text>
</svg></body></html>
